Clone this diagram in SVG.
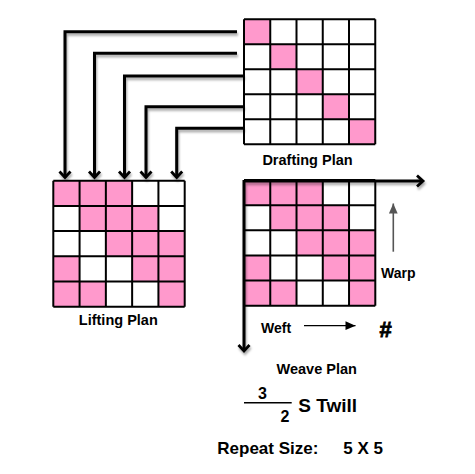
<svg xmlns="http://www.w3.org/2000/svg" width="475" height="474" viewBox="0 0 475 474">
<style>
.lbl{font-family:"Liberation Sans",Arial,sans-serif;font-weight:bold;fill:#000}
.pk{fill:#FF99CC}
.grid{fill:none;stroke:#000;stroke-width:2}
.conn{fill:none;stroke:#000;stroke-width:3}
</style>
<defs>
<filter id="sh" x="-10%" y="-10%" width="130%" height="130%">
<feDropShadow dx="1" dy="2.5" stdDeviation="1.2" flood-color="#000" flood-opacity="0.35"/>
</filter>
<marker id="chev" markerUnits="userSpaceOnUse" markerWidth="16" markerHeight="16" viewBox="-8 -8 10 16" refX="0" refY="0" orient="auto" overflow="visible">
<path d="M-6,-5.5 L0,0 L-6,5.5" fill="none" stroke="#000" stroke-width="2.8"/>
</marker>
<marker id="tri" markerUnits="userSpaceOnUse" markerWidth="10" markerHeight="10" viewBox="-8 -4 8 8" refX="0" refY="0" orient="auto" overflow="visible">
<path d="M-8,-3.5 L0,0 L-8,3.5 Z" fill="context-stroke"/>
</marker>
</defs>
<rect width="475" height="474" fill="#fff"/>

<g id="connectors" filter="url(#sh)">
<polyline class="conn" points="237,31.7 65,31.7 65,177.5" marker-end="url(#chev)"/>
<polyline class="conn" points="237,53.3 94.5,53.3 94.5,177.5" marker-end="url(#chev)"/>
<polyline class="conn" points="244,76 124.5,76 124.5,177.5" marker-end="url(#chev)"/>
<polyline class="conn" points="244,106.7 146,106.7 146,177.5" marker-end="url(#chev)"/>
<polyline class="conn" points="244,128.3 176.7,128.3 176.7,177.5" marker-end="url(#chev)"/>
</g>

<g id="drafting-plan">
<rect class="pk" x="244" y="19.3" width="26.25" height="25"/>
<rect class="pk" x="270.25" y="44.3" width="26.25" height="25"/>
<rect class="pk" x="296.5" y="69.3" width="26.25" height="25"/>
<rect class="pk" x="322.75" y="94.3" width="26.25" height="25"/>
<rect class="pk" x="349" y="119.3" width="26.25" height="25"/>
<path class="grid" d="M244,19.3V144.3M270.25,19.3V144.3M296.5,19.3V144.3M322.75,19.3V144.3M349,19.3V144.3M375.25,19.3V144.3M244,19.3H375.25M244,44.3H375.25M244,69.3H375.25M244,94.3H375.25M244,119.3H375.25M244,144.3H375.25"/>
<text class="lbl" x="307.5" y="164.5" font-size="14.5" text-anchor="middle">Drafting Plan</text>
</g>

<g id="lifting-plan">
<g transform="translate(53.3,180.7)">
<rect class="pk" x="0" y="0" width="26.28" height="25.2"/>
<rect class="pk" x="26.28" y="0" width="26.28" height="25.2"/>
<rect class="pk" x="52.56" y="0" width="26.28" height="25.2"/>
<rect class="pk" x="26.28" y="25.2" width="26.28" height="25.2"/>
<rect class="pk" x="52.56" y="25.2" width="26.28" height="25.2"/>
<rect class="pk" x="78.84" y="25.2" width="26.28" height="25.2"/>
<rect class="pk" x="52.56" y="50.4" width="26.28" height="25.2"/>
<rect class="pk" x="78.84" y="50.4" width="26.28" height="25.2"/>
<rect class="pk" x="105.12" y="50.4" width="26.28" height="25.2"/>
<rect class="pk" x="0" y="75.6" width="26.28" height="25.2"/>
<rect class="pk" x="78.84" y="75.6" width="26.28" height="25.2"/>
<rect class="pk" x="105.12" y="75.6" width="26.28" height="25.2"/>
<rect class="pk" x="0" y="100.8" width="26.28" height="25.2"/>
<rect class="pk" x="26.28" y="100.8" width="26.28" height="25.2"/>
<rect class="pk" x="105.12" y="100.8" width="26.28" height="25.2"/>
<path class="grid" d="M0,0V126M26.28,0V126M52.56,0V126M78.84,0V126M105.12,0V126M131.4,0V126M0,0H131.4M0,25.2H131.4M0,50.4H131.4M0,75.6H131.4M0,100.8H131.4M0,126H131.4"/>
</g>
<text class="lbl" x="118.3" y="325" font-size="14.5" text-anchor="middle">Lifting Plan</text>
</g>

<g id="weave-plan">
<g transform="translate(244,180)">
<rect class="pk" x="0" y="0" width="26.26" height="25.14"/>
<rect class="pk" x="26.26" y="0" width="26.26" height="25.14"/>
<rect class="pk" x="52.52" y="0" width="26.26" height="25.14"/>
<rect class="pk" x="26.26" y="25.14" width="26.26" height="25.14"/>
<rect class="pk" x="52.52" y="25.14" width="26.26" height="25.14"/>
<rect class="pk" x="78.78" y="25.14" width="26.26" height="25.14"/>
<rect class="pk" x="52.52" y="50.28" width="26.26" height="25.14"/>
<rect class="pk" x="78.78" y="50.28" width="26.26" height="25.14"/>
<rect class="pk" x="105.04" y="50.28" width="26.26" height="25.14"/>
<rect class="pk" x="0" y="75.42" width="26.26" height="25.14"/>
<rect class="pk" x="78.78" y="75.42" width="26.26" height="25.14"/>
<rect class="pk" x="105.04" y="75.42" width="26.26" height="25.14"/>
<rect class="pk" x="0" y="100.56" width="26.26" height="25.14"/>
<rect class="pk" x="26.26" y="100.56" width="26.26" height="25.14"/>
<rect class="pk" x="105.04" y="100.56" width="26.26" height="25.14"/>
<path class="grid" d="M0,0V125.7M26.26,0V125.7M52.52,0V125.7M78.78,0V125.7M105.04,0V125.7M131.3,0V125.7M0,0H131.3M0,25.14H131.3M0,50.28H131.3M0,75.42H131.3M0,100.56H131.3M0,125.7H131.3"/>
</g>
<g filter="url(#sh)">
<line class="conn" x1="244" y1="181" x2="423" y2="181" marker-end="url(#chev)"/>
<line class="conn" x1="244" y1="180" x2="244" y2="351" marker-end="url(#chev)"/>
</g>
<line x1="393.3" y1="251.7" x2="393.3" y2="203.5" stroke="#555" stroke-width="1.6" marker-end="url(#tri)"/>
<text class="lbl" x="381" y="277.7" font-size="14">Warp</text>
<text class="lbl" x="261" y="333.3" font-size="14">Weft</text>
<line x1="304" y1="325.7" x2="355.5" y2="325.7" stroke="#000" stroke-width="1.2" marker-end="url(#tri)"/>
<text class="lbl" x="385.5" y="337" font-size="22" text-anchor="middle" stroke="#000" stroke-width="0.8">#</text>
<text class="lbl" x="316.7" y="374" font-size="14.5" text-anchor="middle">Weave Plan</text>
</g>

<g id="twill-label">
<text class="lbl" x="262.5" y="398.5" font-size="16" text-anchor="middle">3</text>
<line x1="244" y1="402.7" x2="291.7" y2="402.7" stroke="#000" stroke-width="1.5"/>
<text class="lbl" x="285" y="421.5" font-size="16" text-anchor="middle">2</text>
<text class="lbl" x="298.3" y="412" font-size="19">S Twill</text>
</g>

<g id="repeat-size">
<text class="lbl" x="217.3" y="454.3" font-size="17">Repeat Size:</text>
<text class="lbl" x="343.3" y="454.3" font-size="17">5 X 5</text>
</g>
</svg>
